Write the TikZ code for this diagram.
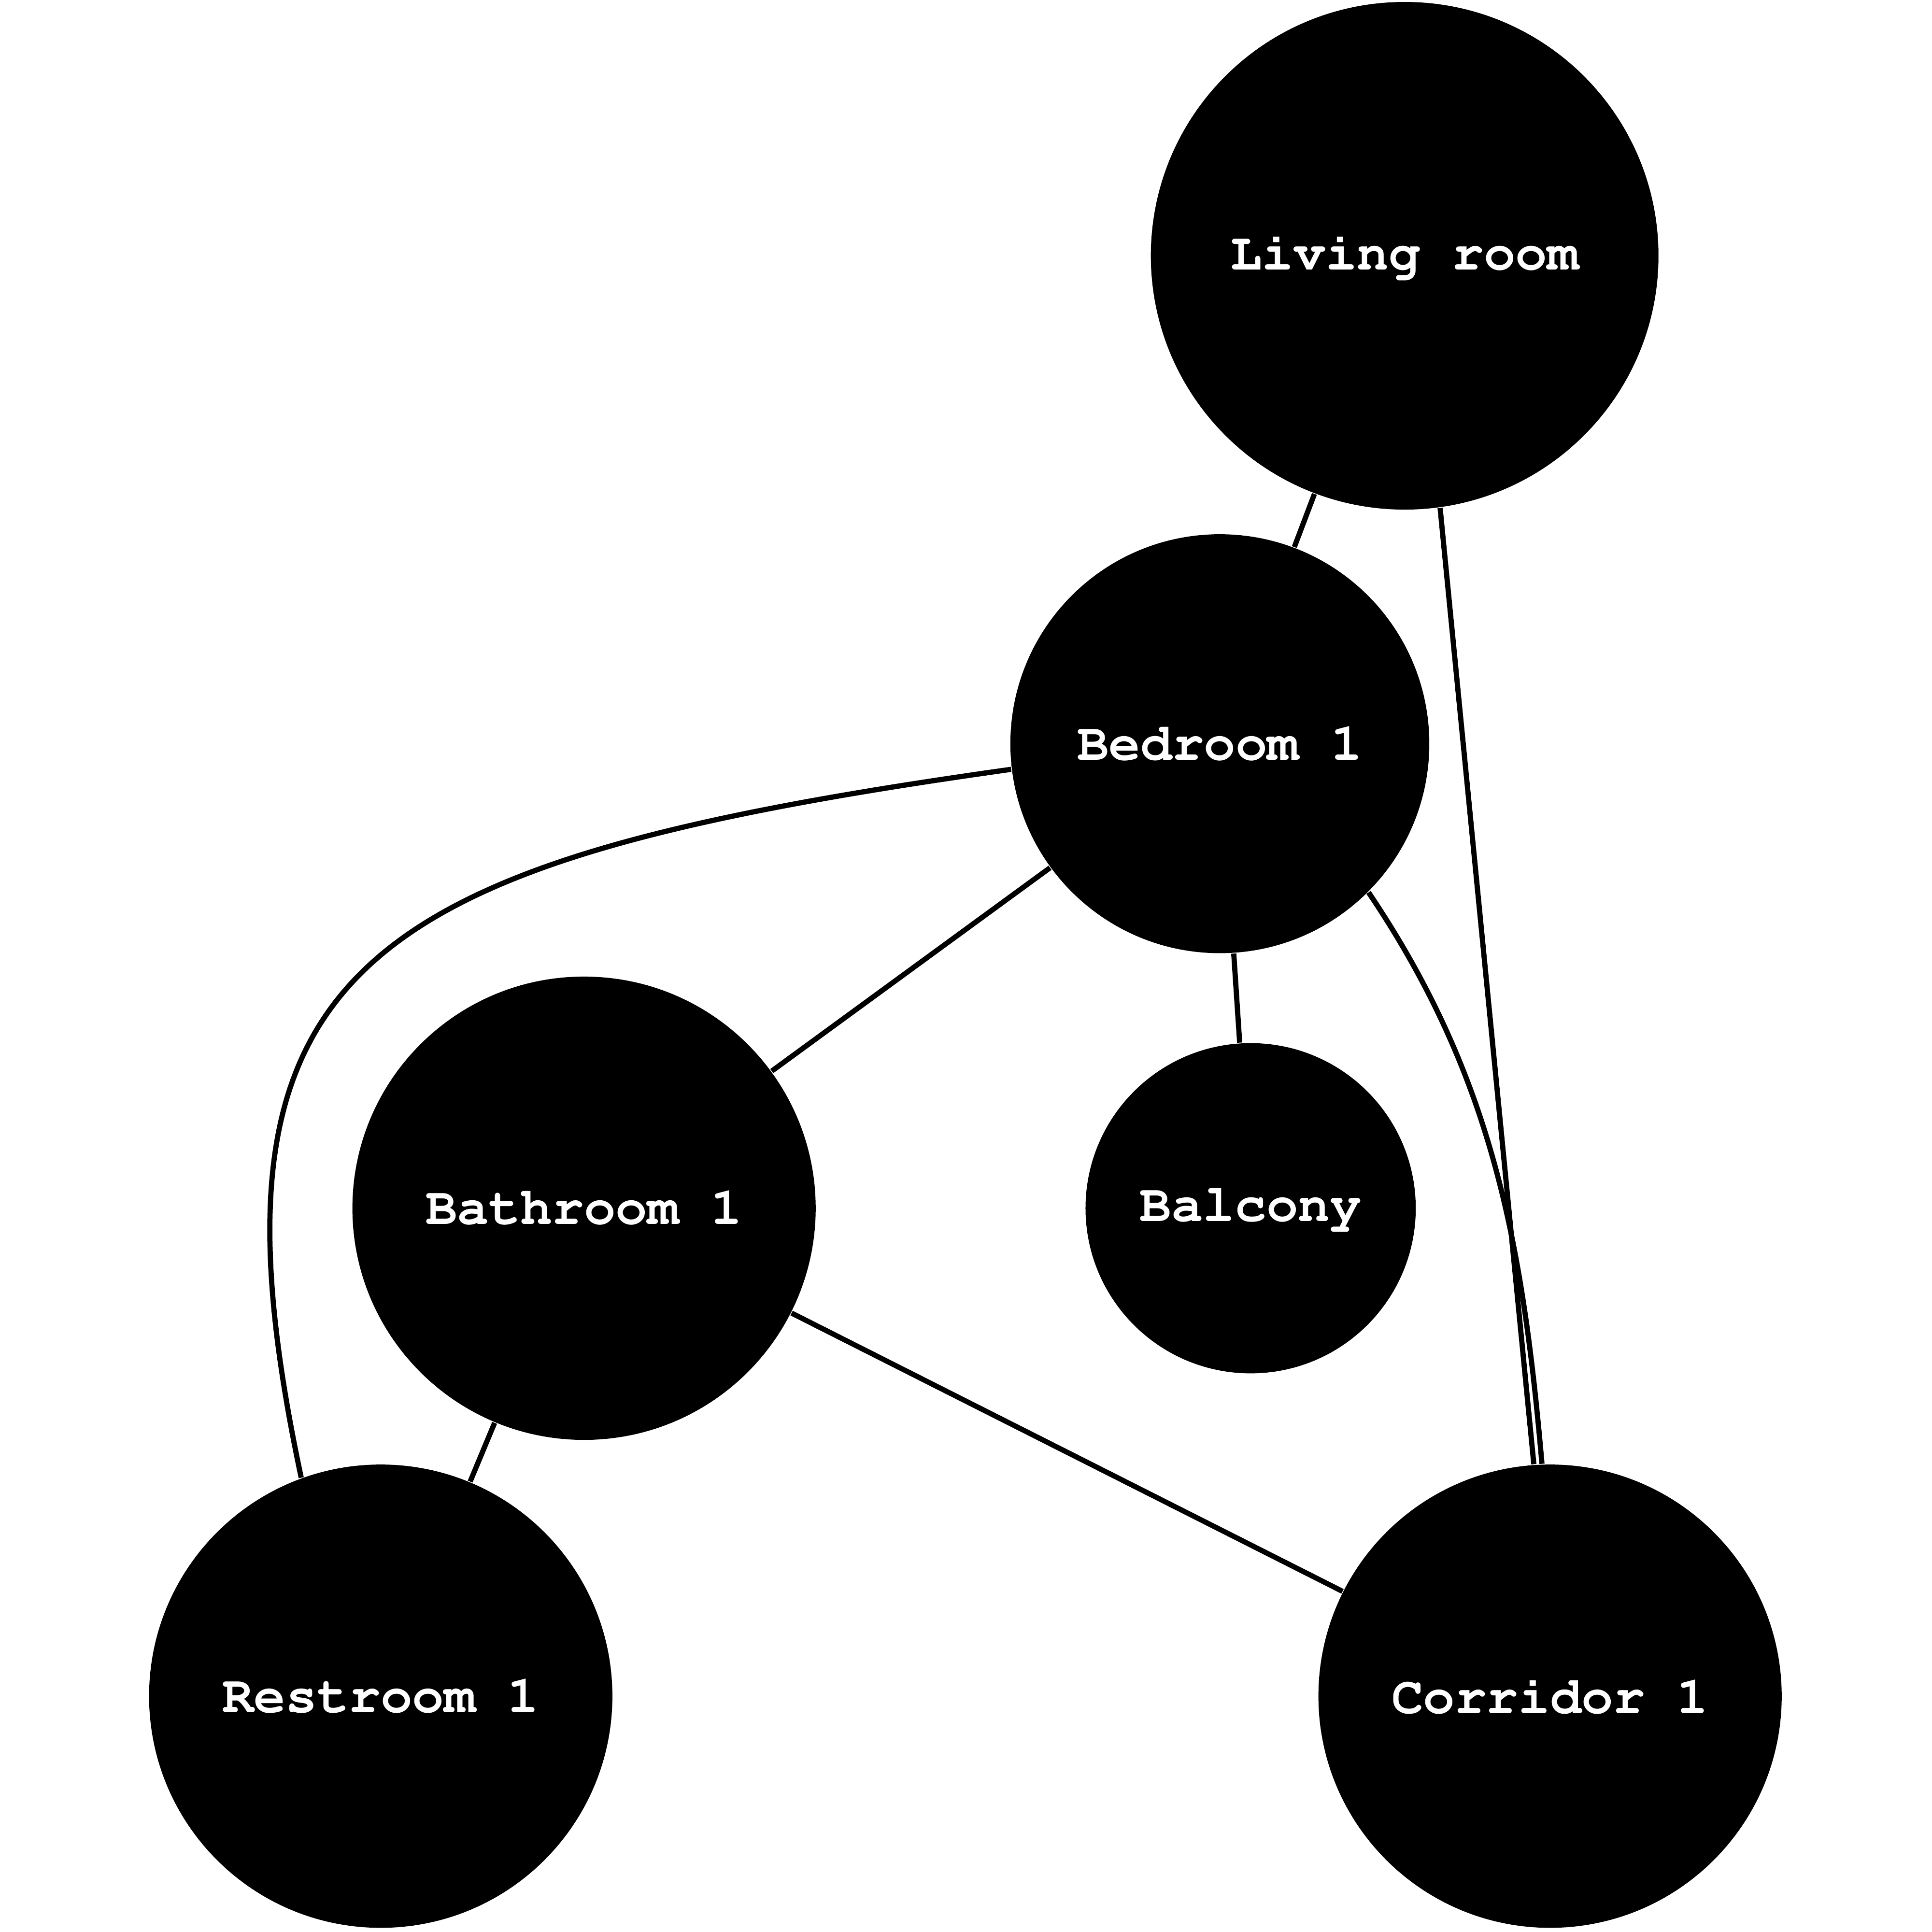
\documentclass[tikz,border=0pt]{standalone}
\usepackage[T1]{fontenc}
\usepackage{fontspec}
\setmonofont{Liberation Mono}
\IfFileExists{t1pcr.fd}
  {\newcommand\roomfont{\fontencoding{T1}\fontfamily{pcr}\selectfont}}
  {\newcommand\roomfont{\ttfamily}}
\usetikzlibrary{calc}

\begin{document}
\begin{tikzpicture}[
    room/.style={circle,fill=black,inner sep=0pt,text=white,
      font=\roomfont\bfseries\fontsize{12.2}{14}\selectfont},
    link/.style={line width=1.2pt}]
      \useasboundingbox (0,0) rectangle (15.68,15.676);
      \node[room,minimum size=4.12cm] (liv) at (11.40,13.60) {Living room};
      \node[room,minimum size=3.40cm] (bed1) at (9.90,9.64) {Bedroom 1};
      \node[room,minimum size=3.76cm] (bath1) at (4.74,5.87) {Bathroom 1};
      \node[room,minimum size=2.68cm] (balc) at (10.15,5.87) {Balcony};
      \node[room,minimum size=3.76cm] (rest1) at (3.09,1.91) {Restroom 1};
      \node[room,minimum size=3.76cm] (corr1) at (12.58,1.91) {Corridor 1};
      % edges
      \draw[link] (liv) -- (bed1);
      \draw[link] (liv.-82.7) -- (corr1.94.2);
      \draw[link] (bed1) -- (balc);
      \draw[link] (bed1) -- (bath1);
      \draw[link] (bath1) -- (rest1);
      \draw[link] (bath1) -- (corr1);
      \draw[link] (bed1.-45) .. controls +(-56:1.8) and +(95:1.8) .. (corr1.92.3);
      \draw[link] (bed1.-173) .. controls +(188:5.4) and +(102:4.25) .. (rest1.110);
    \end{tikzpicture}
\end{document}
